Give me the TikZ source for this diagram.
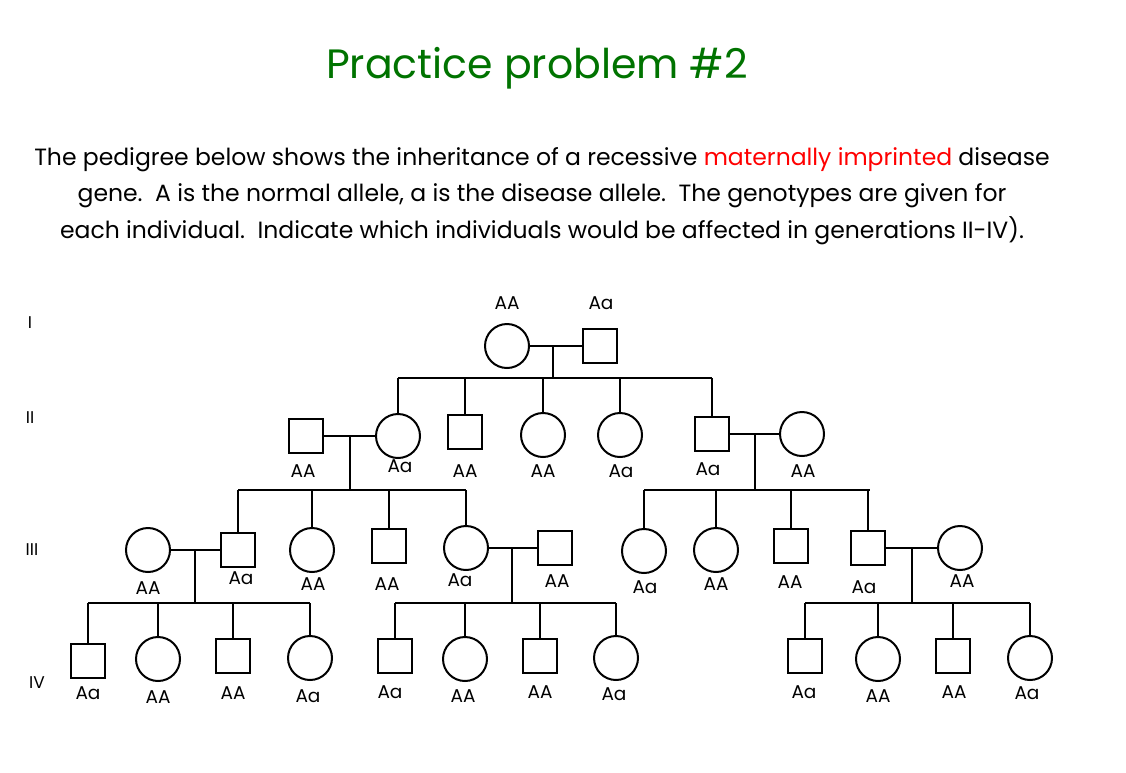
\documentclass[tikz,border=0pt]{standalone}
\usepackage{fontspec}
\setmainfont{Poppins}
\begin{document}
\begin{tikzpicture}[x=1pt,y=-1pt,line width=2pt,
  sq/.style={draw,minimum size=34pt,inner sep=0pt},
  ci/.style={draw,circle,minimum size=44pt,inner sep=0pt},
  lab/.style={font=\fontsize{18.5}{20}\selectfont},
  gen/.style={font=\fontsize{17}{19}\selectfont}]
\useasboundingbox (0,0) rectangle (1126,772);
\node[text=green!45!black,font=\fontsize{41}{46}\selectfont] (title) at (537,68) {Practice problem \#2};
\node[align=center,font=\fontsize{23.5}{36.5}\selectfont] (para) at (542,196) {The pedigree below shows the inheritance of a recessive \textcolor{red}{maternally imprinted} disease\\gene.\ \ A is the normal allele, a is the disease allele.\ \ The genotypes are given for\\each individual.\ \ Indicate which individuals would be affected in generations II-IV).};
\node[gen] (gI) at (30,323) {I};
\node[gen] (gII) at (30,418) {II};
\node[gen] (gIII) at (32,550) {III};
\node[gen] (gIV) at (37,683) {IV};
% Gen I
\node[ci] (a1) at (507,346) {}; \node[sq] (a2) at (600,346) {};
\node[lab] at (507,303) {AA}; \node[lab] at (601,303) {Aa};
\draw (a1) -- (a2);
\coordinate (m1) at (553,346); \coordinate (b1) at (553,378);
\draw (m1) -- (b1); \draw (398,378) -- (712,378);
% Gen II
\node[sq] (b_1) at (306,436) {}; \node[ci] (b_2) at (398,436) {};
\node[sq] (b_3) at (465,432) {}; \node[ci] (b_4) at (543,435) {};
\node[ci] (b_5) at (620,435) {}; \node[sq] (b_6) at (712,434) {};
\node[ci] (b_7) at (802,434) {};
\foreach \n in {b_2,b_3,b_4,b_5,b_6} \draw (\n.north) -- (\n.north |- b1);
\node[lab] at (303,471) {AA}; \node[lab] at (400,466) {Aa}; \node[lab] at (465,471) {AA};
\node[lab] at (543,471) {AA}; \node[lab] at (621,471) {Aa}; \node[lab] at (708,469) {Aa};
\node[lab] at (803,471) {AA};
\draw (b_1) -- (b_2); \draw (b_6) -- (b_7);
\coordinate (m2) at (350,436); \coordinate (m3) at (755,434);
\draw (m2) -- (350,490); \draw (m3) -- (755,490);
\draw (238,490) -- (466,490); \draw (644,490) -- (870,490);
% Gen III
\node[ci] (c1) at (148,550) {}; \node[sq] (c2) at (238,550) {};
\node[ci] (c3) at (312,550) {}; \node[sq] (c4) at (389,546) {};
\node[ci] (c5) at (466,548) {}; \node[sq] (c6) at (555,548) {};
\node[ci] (c7) at (644,551) {}; \node[ci] (c8) at (716,550) {};
\node[sq] (c9) at (791,546) {}; \node[sq] (c10) at (868,548) {};
\node[ci] (c11) at (960,548) {};
\foreach \n in {c2,c3,c4,c5,c7,c8,c9,c10} \draw (\n.north) -- (\n.north |- 0,490);
\draw (c1) -- (c2); \draw (c5) -- (c6); \draw (c10) -- (c11);
\node[lab] at (148,588) {AA}; \node[lab] at (241,578) {Aa}; \node[lab] at (313,584) {AA};
\node[lab] at (387,584) {AA}; \node[lab] at (460,580) {Aa}; \node[lab] at (557,581) {AA};
\node[lab] at (645,587) {Aa}; \node[lab] at (716,584) {AA}; \node[lab] at (790,582) {AA};
\node[lab] at (864,587) {Aa}; \node[lab] at (962,581) {AA};
\draw (195,550) -- (195,603); \draw (512,548) -- (512,603); \draw (912,548) -- (912,603);
\draw (88,603) -- (310,603); \draw (395,603) -- (616,603); \draw (805,603) -- (1030,603);
% Gen IV
\node[sq] (d1) at (88,661) {}; \node[ci] (d2) at (158,659) {};
\node[sq] (d3) at (233,656) {}; \node[ci] (d4) at (310,658) {};
\node[sq] (d5) at (395,656) {}; \node[ci] (d6) at (465,659) {};
\node[sq] (d7) at (540,656) {}; \node[ci] (d8) at (616,658) {};
\node[sq] (d9) at (805,656) {}; \node[ci] (d10) at (878,659) {};
\node[sq] (d11) at (953,656) {}; \node[ci] (d12) at (1030,658) {};
\foreach \n in {d1,d2,d3,d4,d5,d6,d7,d8,d9,d10,d11,d12} \draw (\n.north) -- (\n.north |- 0,603);
\node[lab] at (88,693) {Aa}; \node[lab] at (158,697) {AA}; \node[lab] at (233,693) {AA};
\node[lab] at (308,696) {Aa}; \node[lab] at (390,692) {Aa}; \node[lab] at (463,696) {AA};
\node[lab] at (540,692) {AA}; \node[lab] at (614,694) {Aa}; \node[lab] at (804,692) {Aa};
\node[lab] at (878,696) {AA}; \node[lab] at (954,692) {AA}; \node[lab] at (1027,693) {Aa};
\end{tikzpicture}
\end{document}
